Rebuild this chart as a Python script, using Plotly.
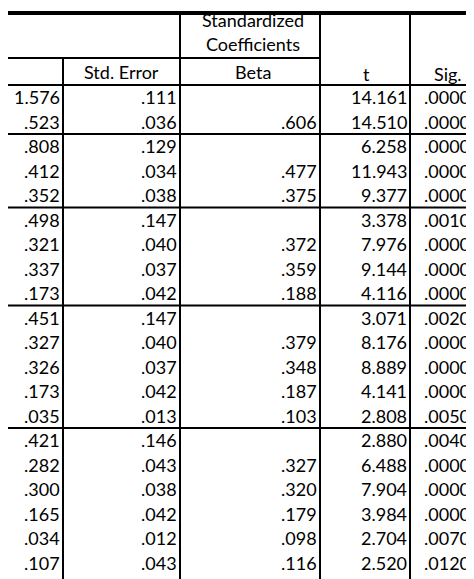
import plotly.graph_objects as go

# Coefficient table values (cropped SPSS output)
b_vals = ["1.576", ".523", ".808", ".412", ".352", ".498", ".321", ".337", ".173",
          ".451", ".327", ".326", ".173", ".035", ".421", ".282", ".300", ".165", ".034", ".107"]
se_vals = [".111", ".036", ".129", ".034", ".038", ".147", ".040", ".037", ".042",
           ".147", ".040", ".037", ".042", ".013", ".146", ".043", ".038", ".042", ".012", ".043"]
beta_vals = ["", ".606", "", ".477", ".375", "", ".372", ".359", ".188",
             "", ".379", ".348", ".187", ".103", "", ".327", ".320", ".179", ".098", ".116"]
t_vals = ["14.161", "14.510", "6.258", "11.943", "9.377", "3.378", "7.976", "9.144", "4.116",
          "3.071", "8.176", "8.889", "4.141", "2.808", "2.880", "6.488", "7.904", "3.984", "2.704", "2.520"]
sig_vals = [".0000", ".0000", ".0000", ".0000", ".0000", ".0010", ".0000", ".0000", ".0000",
            ".0020", ".0000", ".0000", ".0000", ".0050", ".0040", ".0000", ".0000", ".0000", ".0070", ".0120"]
group_sizes = [2, 3, 4, 5, 6]

W, H = 474, 579
top, mid, hdr = 5, 50, 77
row_h = 24.5
col_x = [55, 172, 312, 402]
font = dict(family="Lato, Carlito, sans-serif", size=18, color="black")

fig = go.Figure()
shapes = []
line = dict(color="black", width=2)

def hline(y, x0, x1, w=2):
    shapes.append(dict(type="line", x0=x0, x1=x1, y0=y, y1=y, line=dict(color="black", width=w)))

def vline(x, y0, y1):
    shapes.append(dict(type="line", x0=x, x1=x, y0=y0, y1=y1, line=line))

hline(top, 0, W, 4)
hline(mid, 0, 312)
hline(hdr, 0, W)
vline(col_x[0], mid, H)
for x in col_x[1:]:
    vline(x, top, H)

n = 0
for g in group_sizes[:-1]:
    n += g
    hline(hdr + n * row_h, 0, W)

ann = []
def text(x, y, s, anchor):
    ann.append(dict(x=x, y=y, text=s, showarrow=False, xanchor=anchor, yanchor="middle", font=font))

text(-2, 38, "ndardized Coefficients", "left")
text(245, 12, "Standardized", "center")
text(245, 36, "Coefficients", "center")
text(-2, 64, "B", "left")
text(113, 64, "Std. Error", "center")
text(245, 64, "Beta", "center")
text(358, 66, "t", "center")
text(440, 66, "Sig.", "center")

for i in range(len(b_vals)):
    y = hdr + (i + 0.5) * row_h
    text(col_x[0] - 1, y, b_vals[i], "right")
    text(col_x[1] - 1, y, se_vals[i], "right")
    if beta_vals[i]:
        text(col_x[2] - 1, y, beta_vals[i], "right")
    text(col_x[3] - 1, y, t_vals[i], "right")
    text(414, y, sig_vals[i], "left")

fig.update_layout(
    width=W, height=H, margin=dict(l=0, r=0, t=0, b=0),
    paper_bgcolor="white", plot_bgcolor="white",
    xaxis=dict(range=[0, W], visible=False, fixedrange=True),
    yaxis=dict(range=[H, 0], visible=False, fixedrange=True),
    shapes=shapes, annotations=ann, showlegend=False,
)
fig.write_html("out.html", config={"displayModeBar": False})
